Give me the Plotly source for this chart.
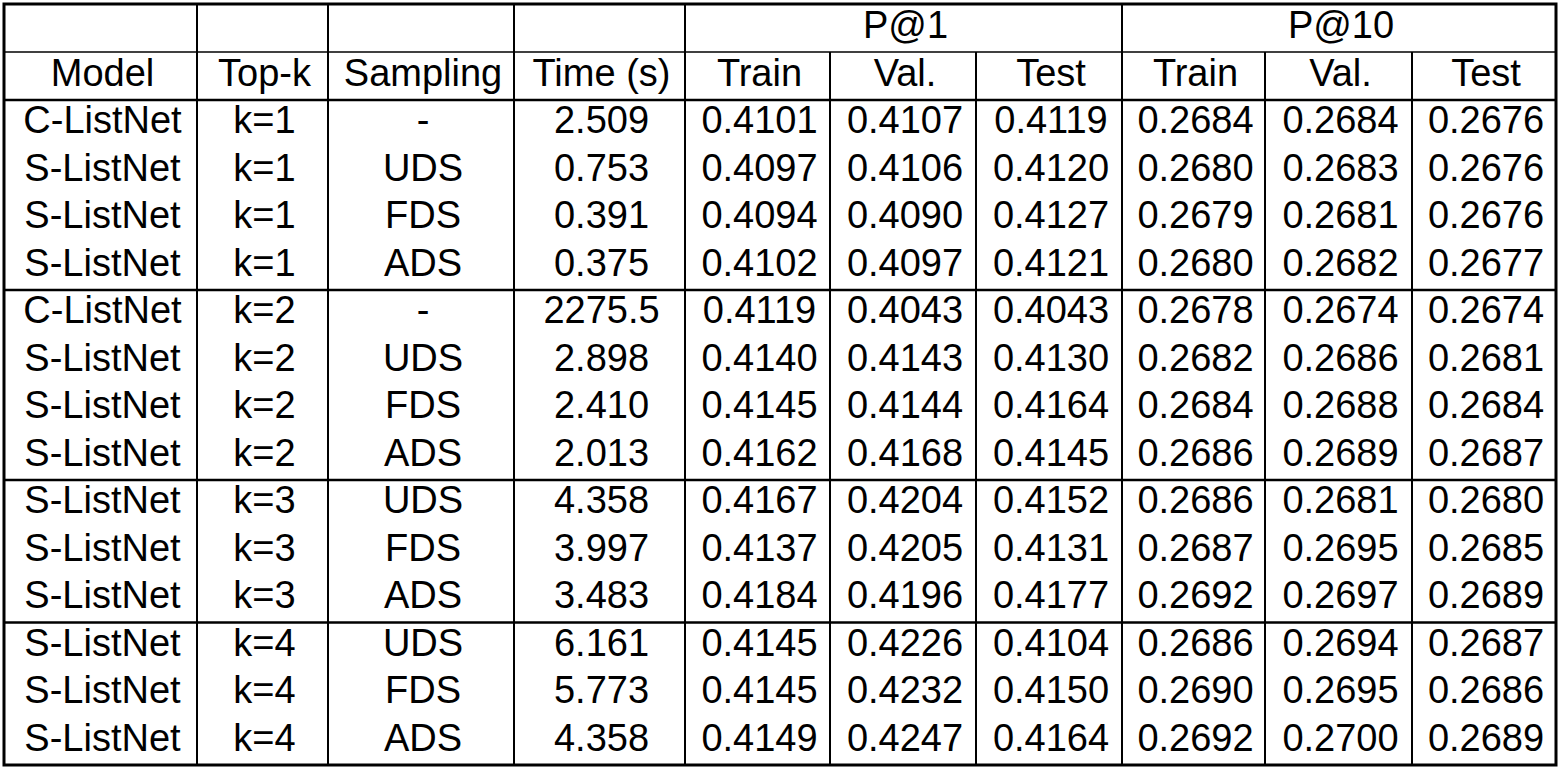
import plotly.graph_objects as go

# table contents
group_titles = ["P@1", "P@10"]
header = ["Model", "Top-k", "Sampling", "Time (s)",
          "Train", "Val.", "Test", "Train", "Val.", "Test"]

models = ["C-ListNet", "S-ListNet", "S-ListNet", "S-ListNet",
          "C-ListNet", "S-ListNet", "S-ListNet", "S-ListNet",
          "S-ListNet", "S-ListNet", "S-ListNet",
          "S-ListNet", "S-ListNet", "S-ListNet"]
top_k = ["k=1"] * 4 + ["k=2"] * 4 + ["k=3"] * 3 + ["k=4"] * 3
sampling = ["-", "UDS", "FDS", "ADS", "-", "UDS", "FDS", "ADS",
            "UDS", "FDS", "ADS", "UDS", "FDS", "ADS"]
time_s = ["2.509", "0.753", "0.391", "0.375", "2275.5", "2.898", "2.410",
          "2.013", "4.358", "3.997", "3.483", "6.161", "5.773", "4.358"]

p1_train = [0.4101, 0.4097, 0.4094, 0.4102, 0.4119, 0.4140, 0.4145,
            0.4162, 0.4167, 0.4137, 0.4184, 0.4145, 0.4145, 0.4149]
p1_val = [0.4107, 0.4106, 0.4090, 0.4097, 0.4043, 0.4143, 0.4144,
          0.4168, 0.4204, 0.4205, 0.4196, 0.4226, 0.4232, 0.4247]
p1_test = [0.4119, 0.4120, 0.4127, 0.4121, 0.4043, 0.4130, 0.4164,
           0.4145, 0.4152, 0.4131, 0.4177, 0.4104, 0.4150, 0.4164]
p10_train = [0.2684, 0.2680, 0.2679, 0.2680, 0.2678, 0.2682, 0.2684,
             0.2686, 0.2686, 0.2687, 0.2692, 0.2686, 0.2690, 0.2692]
p10_val = [0.2684, 0.2683, 0.2681, 0.2682, 0.2674, 0.2686, 0.2688,
           0.2689, 0.2681, 0.2695, 0.2697, 0.2694, 0.2695, 0.2700]
p10_test = [0.2676, 0.2676, 0.2676, 0.2677, 0.2674, 0.2681, 0.2684,
            0.2687, 0.2680, 0.2685, 0.2689, 0.2687, 0.2686, 0.2689]

fmt = lambda vals: ["%.4f" % v for v in vals]
columns = [models, top_k, sampling, time_s,
           fmt(p1_train), fmt(p1_val), fmt(p1_test),
           fmt(p10_train), fmt(p10_val), fmt(p10_test)]

# geometry (pixels, y downwards)
W, H = 1561, 769
col_edges = [4, 197, 328, 514, 685, 830, 976, 1122, 1265, 1412, 1556]
top = 4
head_h = 48
row_h = 47.5
n_rows = len(models)
data_top = top + 2 * head_h
bottom = data_top + n_rows * row_h
nudge = 2  # text sits a touch right of the cell centre in the original

FONT = dict(family="Liberation Sans, Arial, sans-serif", size=38, color="black")

centers = [(col_edges[i] + col_edges[i + 1]) / 2 + nudge for i in range(len(header))]
row_y = [data_top + row_h * (i + 0.5) for i in range(n_rows)]

fig = go.Figure()

# top header: group titles spanning three columns each
fig.add_trace(go.Scatter(
    x=[(col_edges[4] + col_edges[7]) / 2 + nudge, (col_edges[7] + col_edges[10]) / 2 + nudge],
    y=[top + head_h / 2] * 2,
    mode="text", text=group_titles, textfont=FONT,
    textposition="middle center", hoverinfo="skip", showlegend=False,
))
# second header row
fig.add_trace(go.Scatter(
    x=centers, y=[top + head_h * 1.5] * len(header),
    mode="text", text=header, textfont=FONT,
    textposition="middle center", hoverinfo="skip", showlegend=False,
))
# body
for cx, col in zip(centers, columns):
    fig.add_trace(go.Scatter(
        x=[cx] * n_rows, y=row_y, mode="text", text=col, textfont=FONT,
        textposition="middle center", hoverinfo="skip", showlegend=False,
    ))

shapes = []


def hline(y, x0, x1, w):
    shapes.append(dict(type="line", xref="x", yref="y", x0=x0, x1=x1,
                       y0=y, y1=y, line=dict(color="black", width=w)))


def vline(x, y0, y1, w):
    shapes.append(dict(type="line", xref="x", yref="y", x0=x, x1=x,
                       y0=y0, y1=y1, line=dict(color="black", width=w)))


# inner vertical lines
for i, x in enumerate(col_edges[1:-1], start=1):
    if i in (5, 6, 8, 9):
        vline(x, top + head_h, bottom, 2)
    else:
        vline(x, top, bottom, 2)

# horizontal rules
hline(top + head_h, col_edges[0], col_edges[-1], 1.3)
hline(data_top, col_edges[0], col_edges[-1], 2.5)
for i in range(1, n_rows):
    if top_k[i] != top_k[i - 1]:
        hline(data_top + i * row_h, col_edges[0], col_edges[-1], 2.5)

# outer frame
shapes.append(dict(type="rect", xref="x", yref="y",
                   x0=col_edges[0], x1=col_edges[-1], y0=top, y1=bottom,
                   line=dict(color="black", width=3)))

fig.update_layout(
    width=W, height=H,
    margin=dict(l=0, r=0, t=0, b=0),
    paper_bgcolor="white", plot_bgcolor="white",
    xaxis=dict(range=[0, W], visible=False, fixedrange=True),
    yaxis=dict(range=[H, 0], visible=False, fixedrange=True),
    shapes=shapes,
)

fig.write_html("out.html", config={"displayModeBar": False},
               post_script="document.body.style.margin='0';")
